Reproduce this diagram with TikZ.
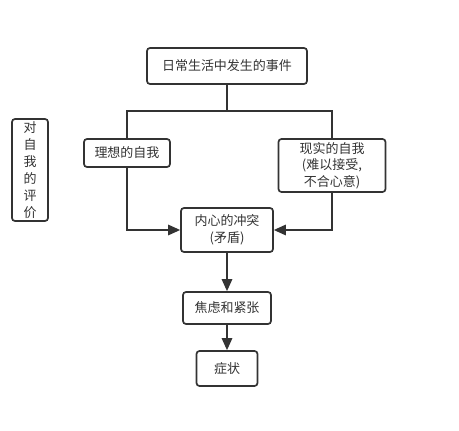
\documentclass[tikz,border=0pt]{standalone}
\usepackage{fontspec}
\newfontfamily\cjk{Noto Sans CJK SC}
\usetikzlibrary{arrows.meta}
\begin{document}
\begin{tikzpicture}[x=1pt,y=-1pt,
  box/.style={draw=black!80,line width=1.7pt,rounded corners=3pt,inner sep=0pt,
    align=center,text=black!80,font=\cjk\fontsize{13}{16.5}\selectfont},
  conn/.style={draw=black!80,line width=1.5pt},
  arr/.style={conn,-{Triangle[length=12pt,width=10.5pt]}}]
\useasboundingbox (0,0) rectangle (459,431);
\node[box,minimum width=160pt,minimum height=36pt] (top) at (227,66) {日常生活中发生的事件};
\node[box,minimum width=86pt,minimum height=28pt] (left) at (127,153) {理想的自我};
\node[box,minimum width=107pt,minimum height=53pt] (right) at (332,165.5) {现实的自我\\(难以接受,\\不合心意)};
\node[box,minimum width=92pt,minimum height=44pt] (mid) at (227,230) {内心的冲突\\(矛盾)};
\node[box,minimum width=88pt,minimum height=32pt] (anx) at (227,308) {焦虑和紧张};
\node[box,minimum width=61pt,minimum height=35pt] (sym) at (227,368.5) {症状};
\node[box,minimum width=36pt,minimum height=102pt,font=\cjk\fontsize{13}{17}\selectfont] (side) at (30,170) {对\\自\\我\\的\\评\\价};
\coordinate (split) at (227,111);
\draw[conn] (top.south) -- (split);
\draw[conn] (left.north) |- (split) -| (right.north);
\draw[arr] (left.south) |- (mid.west);
\draw[arr] (right.south) |- (mid.east);
\draw[arr] (mid) -- (anx);
\draw[arr] (anx) -- (sym);
\end{tikzpicture}
\end{document}
